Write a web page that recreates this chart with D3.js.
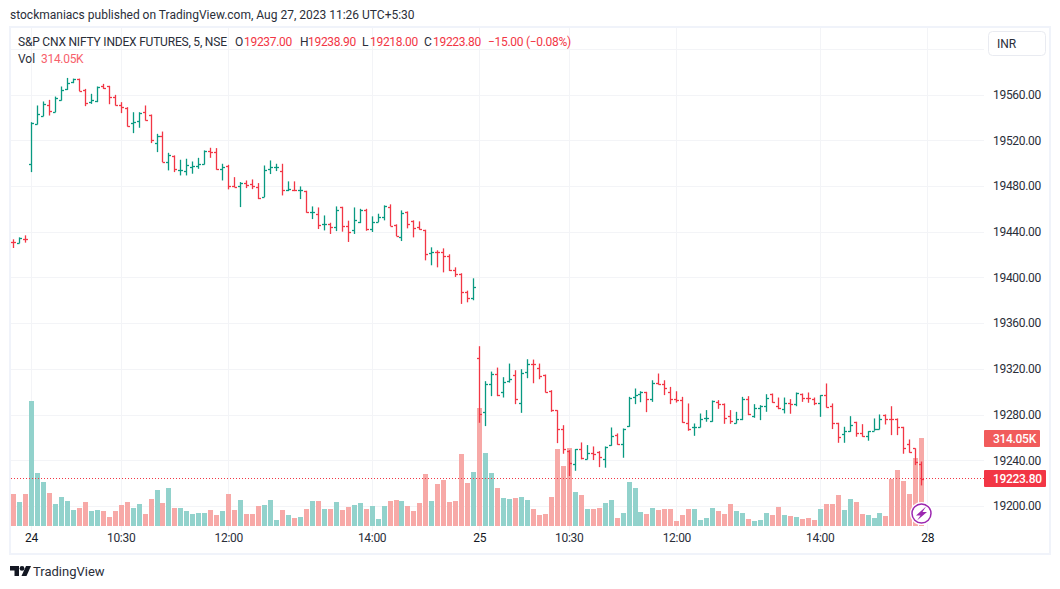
<!DOCTYPE html>
<html>
<head>
<meta charset="utf-8">
<script src="https://cdn.jsdelivr.net/npm/d3@7"></script>
<style>
	body { margin: 0; background: #fff; }
	svg { display: block; }
	text { font-family: Roboto, sans-serif; font-size: 12px; fill: #2a2e39; }
	.axis path, .axis line { display: none; }
	.axis text { font-family: Roboto, sans-serif; font-size: 12px; fill: #2a2e39; letter-spacing: -0.3px; }
	.tight { letter-spacing: -0.3px; }
</style>
</head>
<body>
<div id="chart"></div>
<script>
// 5 minute bars, Aug 23 tail + Aug 24 + Aug 25
var opens = [19431,19430.4,19433.4,
19499.4,19534.3,19541.6,19551.2,19545.1,19555.3,19564.6,19570.8,19573.7,19564,19553.3,19554.7,19567,19567,19557.4,19551,19548.3,19534.9,19536.4,19544.5,19541.9,19517.5,19523.3,19501.2,19506.1,19493.6,19493,19497,19497.3,19499.4,19510.5,19509.9,19495,19497.3,
19479.6,19480.2,19482.8,19481.9,19479.3,19470.5,19494.4,19496.8,19493.3,19476.7,19476.7,19476.1,19475.2,19456.9,19455.1,19446.4,19447,19444.3,19461.2,19444.9,19441.7,19448.7,19458.9,19442,19448.7,19452.8,19461.8,19445.8,19435.6,19457.4,19449.6,19444,19441.1,19421,19422.5,19422.2,19419,19406.5,19403,19387,19382.3,
19329.9,19282.4,19306.3,19315.9,19299.3,19309.5,19314.4,19289.7,19316.8,19324.6,19321.1,19314.4,19300.4,19283.6,19267.5,19248,19236.7,19249.5,19240.8,19246.6,19246.9,19241,19253,19262,19254.1,19269.6,19295.5,19297.8,19299.3,19293.7,19308,19306.6,19299.3,19293.5,19292.3,19272.2,19268.7,19269.3,
19276.6,19274.5,19291.1,19289.1,19278.6,19272.8,19275.7,19294,19278.6,19285.3,19287.6,19297.8,19287.3,19285,19290.5,19288.8,19298.4,19294.9,19294,19289.7,19297,19287.9,19272.2,19262.9,19265.2,19273.7,19263.5,19261.1,19265.8,19267.8,19279.5,19276.3,19276,19268.7,19253.9,19250.4,19237];
var highs = [19433.3,19435,19436.8,
19535.8,19550.4,19553.9,19555.3,19558.2,19567,19574.5,19573.9,19573.9,19564.9,19560.6,19567,19569.3,19567.6,19559.7,19553.3,19548.9,19544.5,19544.5,19550.4,19542.5,19525.6,19527.6,19509,19506.7,19502.9,19503.8,19501.4,19504.6,19511.1,19513.4,19513.1,19499.4,19498.5,
19487.7,19483.4,19484.8,19485.7,19482.5,19497.9,19502.3,19499.4,19499.4,19484,19484,19479.6,19475.8,19462.1,19461.2,19454.2,19447.8,19462.1,19461.8,19449.6,19461.2,19460,19460,19453.4,19455.7,19463,19463.9,19446.4,19458.6,19457.7,19449.9,19449,19441.7,19426.3,19423.7,19425.4,19420.2,19408.8,19403.6,19388.4,19399.2,
19339.8,19309.2,19317.6,19321.1,19312.7,19324.6,19318.8,19319.7,19328.4,19328.1,19324.6,19315,19301.3,19283.8,19270.7,19248.9,19249.8,19255.6,19253.3,19252.1,19248,19252.1,19268.7,19263.5,19267.8,19295.5,19302.8,19300.4,19299.9,19310,19315.9,19310,19304.2,19300.4,19295.5,19289.7,19272.2,19280.9,
19283.9,19292.3,19292.6,19289.7,19283.9,19282.4,19295.5,19296.1,19289.1,19288.2,19297.8,19298.4,19294.9,19294.9,19293.5,19299.3,19298.4,19299.3,19294.9,19297,19307.2,19289.7,19272.8,19269.3,19278.6,19273.7,19271.6,19265.5,19276.6,19280.1,19280.1,19287.3,19276.6,19269.3,19258.2,19250.4,19238.9];
var lows = [19425.7,19429.8,19430.4,
19492.1,19533.8,19541,19541.6,19544.5,19554.7,19564,19569.9,19562.9,19549.8,19551.8,19553.3,19564.9,19551.5,19550.4,19543.7,19532,19526.2,19530.9,19537.2,19517.5,19509.6,19500.9,19493.6,19492.1,19489.2,19489.2,19490.7,19495,19498.8,19504.6,19494.2,19484.8,19477,
19479,19461.5,19478.1,19477.2,19468.5,19470.3,19490.4,19493,19471.7,19475.5,19475.5,19468.5,19456.6,19451,19442.3,19441.1,19438,19440.5,19440,19431,19438,19447.5,19440.8,19439.7,19448.4,19449.9,19444.9,19436.2,19431.8,19442.9,19435,19441.7,19414.9,19410.6,19408.8,19404.4,19405.6,19400.4,19376.8,19378.2,19380,
19272.8,19269.9,19296.1,19296.1,19294.9,19308,19289.1,19281.5,19311.8,19307.4,19310.9,19299.3,19282.4,19255,19245.7,19226.2,19230.8,19240.8,19240.8,19240.2,19234,19233.5,19252.7,19253.6,19242.2,19269.3,19289.1,19290.8,19282.1,19291.1,19306.3,19297,19289.1,19290.5,19272.8,19265.8,19261.4,19268.7,
19273.7,19273.7,19285,19271.9,19271.9,19272.2,19275.1,19279.5,19277.2,19275.1,19282.4,19290.3,19284.7,19281,19280.7,19287.3,19291.1,19290.3,19288.2,19278,19286.2,19267.3,19255.3,19255.3,19264.9,19260.6,19260.6,19257.1,19265.8,19267,19271.3,19262,19262,19245.7,19246.6,19235.8,19218];
var closes = [19430.8,19434.4,19433.2,
19534.9,19543.1,19551.8,19546,19557,19563.5,19570.2,19573.4,19563.2,19552.4,19555.6,19566.4,19565.8,19557.4,19551,19548.9,19532.6,19535.8,19543.7,19537.8,19519.8,19523.3,19501.2,19507.3,19495,19493.6,19497.9,19497.3,19499.4,19510.5,19509.6,19495,19497,19479.9,
19479,19482.8,19481,19479.6,19469.4,19494.1,19496.8,19497,19476.7,19476.9,19476.1,19476.4,19456.9,19457,19445.8,19447,19444.3,19458.6,19445.2,19439.4,19450.5,19458.6,19442.3,19448.1,19453.1,19462.4,19445.2,19436.5,19456.6,19447,19443.5,19442,19420.8,19422.2,19421.9,19418.7,19406.2,19403,19387.5,19382.3,19391.9,
19280.4,19306.6,19315.9,19297.5,19308.9,19311.5,19293.2,19316.2,19324,19324,19314.1,19299.9,19284.4,19267.8,19249.5,19237.3,19249.5,19241.6,19246.6,19245.4,19242.5,19251.8,19261.4,19254.1,19267.8,19294.9,19297.5,19299.3,19294,19307.7,19306.6,19303.6,19294,19292.3,19273.1,19267.2,19269.3,19275.7,
19277.4,19292,19289.4,19277.4,19274.5,19275.7,19294,19280.4,19285.3,19287.3,19294.9,19290.8,19285.6,19290.5,19288.8,19299,19294.9,19294.6,19290.5,19296.7,19286.5,19272.2,19260,19265.2,19270.8,19264,19261.4,19265.2,19267.8,19276,19276,19276,19269.3,19250.4,19247.5,19238.7,19223.8];
// volume in thousands
var volumes = [114,86,114,
446,189,157,118,79,104,89,57,64,86,54,57,54,32,54,75,86,64,79,43,96,129,82,136,64,64,54,43,46,46,57,39,54,114,
57,93,43,43,71,75,93,21,57,39,29,32,61,89,89,61,61,86,57,68,75,82,61,71,25,71,89,93,89,71,54,82,186,89,150,164,86,89,257,154,193,
421,261,189,136,100,96,100,104,93,61,39,43,104,275,214,278,121,111,61,61,64,82,93,29,46,157,136,50,43,64,57,61,61,18,39,61,61,21,
29,64,54,43,79,54,46,25,18,21,46,39,68,39,36,32,25,29,21,61,79,79,111,57,96,86,43,39,29,46,36,168,200,161,114,243,314.05];

var priceTicks = [19200,19240,19280,19320,19360,19400,19440,19480,19520,19560];
var gridPrices = [19200,19240,19280,19320,19360,19400,19440,19480,19520,19560,19600];
var timeTickIndex = [3,18,36,60,78,93,111,135,153];
var timeTickLabels = ["24","10:30","12:00","14:00","25","10:30","12:00","14:00","28"];
var dayLabels = ["24","25","28"];

var lastClose = 19223.80;
var lastVolume = "314.05K";

var green = "#089981", red = "#f23645";
var greenVol = "#92d2cc", redVol = "#f7a9a7";

var svg = d3.select("#chart").append("svg")
	.attr("width", 1060)
	.attr("height", 589);

var x = d3.scaleLinear().domain([0, 153]).range([13.1, 927.3]);
var y = d3.scaleLinear().domain([19200, 19560]).range([506, 94.5]);
var v = d3.scaleLinear().domain([0, 314.05]).range([526, 438]);

function px(i) { return Math.round(x(i)); }

// outer frame
svg.append("rect")
	.attr("x", 10).attr("y", 27)
	.attr("width", 1040).attr("height", 527)
	.attr("fill", "none")
	.attr("stroke", "#f0f3fa")
	.attr("stroke-width", 2);

// grid
svg.append("g").selectAll("line").data(gridPrices).join("line")
	.attr("x1", 11).attr("x2", 984)
	.attr("y1", function(d) { return Math.round(y(d)) + 0.5; })
	.attr("y2", function(d) { return Math.round(y(d)) + 0.5; })
	.attr("stroke", "#f3f4f7");
svg.append("g").selectAll("line").data(timeTickIndex).join("line")
	.attr("x1", function(d) { return px(d) + 0.5; })
	.attr("x2", function(d) { return px(d) + 0.5; })
	.attr("y1", 28).attr("y2", 531)
	.attr("stroke", "#f3f4f7");

// volume bars
svg.append("g").selectAll("rect").data(volumes).join("rect")
	.attr("x", function(d, i) { return px(i) - 2; })
	.attr("width", 5)
	.attr("y", function(d) { return Math.round(v(d)); })
	.attr("height", function(d) { return 526 - Math.round(v(d)); })
	.attr("fill", function(d, i) { return closes[i] >= opens[i] ? greenVol : redVol; });

// last price line
var lastY = Math.floor(y(lastClose));
svg.append("line")
	.attr("x1", 11).attr("x2", 984)
	.attr("y1", lastY + 0.5)
	.attr("y2", lastY + 0.5)
	.attr("stroke", red)
	.attr("stroke-dasharray", "1 2");

// ohlc bars
var bars = svg.append("g").attr("stroke-width", 1.3)
	.selectAll("g").data(opens).join("g")
	.attr("stroke", function(d, i) { return closes[i] >= opens[i] ? green : red; });
bars.append("line")
	.attr("x1", function(d, i) { return px(i) + 0.5; })
	.attr("x2", function(d, i) { return px(i) + 0.5; })
	.attr("y1", function(d, i) { return y(highs[i]); })
	.attr("y2", function(d, i) { return y(lows[i]); });
bars.append("line")
	.attr("x1", function(d, i) { return px(i) - 2; })
	.attr("x2", function(d, i) { return px(i) + 0.5; })
	.attr("y1", function(d, i) { return Math.round(y(opens[i])) + 0.5; })
	.attr("y2", function(d, i) { return Math.round(y(opens[i])) + 0.5; });
bars.append("line")
	.attr("x1", function(d, i) { return px(i) + 0.5; })
	.attr("x2", function(d, i) { return px(i) + 3; })
	.attr("y1", function(d, i) { return Math.round(y(closes[i])) + 0.5; })
	.attr("y2", function(d, i) { return Math.round(y(closes[i])) + 0.5; });

// axes
svg.append("g").attr("class", "axis")
	.attr("transform", "translate(993,0)")
	.call(d3.axisRight(y).tickValues(priceTicks).tickSize(0).tickPadding(0).tickFormat(d3.format(".2f")));

var timeAxis = svg.append("g").attr("class", "axis")
	.attr("transform", "translate(0,530)")
	.call(d3.axisBottom(x).tickValues(timeTickIndex).tickSize(0).tickPadding(3)
		.tickFormat(function(d, i) { return timeTickLabels[i]; }));
timeAxis.selectAll("text")
	.style("fill", function(d, i) { return dayLabels.indexOf(timeTickLabels[i]) >= 0 ? "#131722" : "#2a2e39"; });

// value tags on the axis
svg.append("rect")
	.attr("x", 984).attr("y", Math.round(v(314.05)) - 8)
	.attr("width", 56).attr("height", 17).attr("rx", 1)
	.attr("fill", "#f15b5b");
svg.append("text")
	.attr("x", 993).attr("y", Math.round(v(314.05)) + 4.5)
	.attr("font-weight", 500)
	.attr("class", "tight")
	.style("fill", "#fff")
	.text(lastVolume);
svg.append("rect")
	.attr("x", 984).attr("y", lastY - 8)
	.attr("width", 62).attr("height", 17).attr("rx", 1)
	.attr("fill", red);
svg.append("text")
	.attr("x", 993).attr("y", lastY + 4.5)
	.attr("font-weight", 500)
	.attr("class", "tight")
	.style("fill", "#fff")
	.text(d3.format(".2f")(lastClose));

// currency box
svg.append("rect")
	.attr("x", 988.5).attr("y", 31.5)
	.attr("width", 57).attr("height", 24).attr("rx", 4)
	.attr("fill", "#fff").attr("stroke", "#e9ebf1");
svg.append("text").attr("x", 997).attr("y", 48).text("INR");

// headers
svg.append("text").attr("x", 10).attr("y", 19).text("stockmaniacs published on TradingView.com, Aug 27, 2023 11:26 UTC+5:30");
svg.append("text").attr("x", 18).attr("y", 46).style("letter-spacing", "-0.2px").text("S&P CNX NIFTY INDEX FUTURES, 5, NSE");

var legendItems = [
	{x: 235, t: "O", c: "#2a2e39"}, {x: 244, t: "19237.00", c: red},
	{x: 300, t: "H", c: "#2a2e39"}, {x: 308, t: "19238.90", c: red},
	{x: 362, t: "L", c: "#2a2e39"}, {x: 370, t: "19218.00", c: red},
	{x: 424, t: "C", c: "#2a2e39"}, {x: 433, t: "19223.80", c: red},
	{x: 488, t: "\u221215.00 (\u22120.08%)", c: red}
];
svg.append("g").selectAll("text").data(legendItems).join("text")
	.attr("class", "tight")
	.attr("x", function(d) { return d.x; })
	.attr("y", 46)
	.style("fill", function(d) { return d.c; })
	.text(function(d) { return d.t; });

svg.append("text").attr("x", 18).attr("y", 63).text("Vol");
svg.append("text").attr("x", 41).attr("y", 63).attr("class", "tight").style("fill", "#f7616c").text(lastVolume);

// lightning badge
var badge = svg.append("g").attr("transform", "translate(921.5,513.5)");
badge.append("circle").attr("r", 11.5).attr("fill", "#fff");
badge.append("circle").attr("r", 9.5).attr("fill", "#fff").attr("stroke", "#9c27b0").attr("stroke-width", 1.5);
badge.append("path").attr("d", "M4.5,-7 L-5.5,2 L-1,2 L-4.5,7 L5.5,-1.5 L1,-1.5 Z").attr("fill", "#9c27b0");

// footer logo
var logo = svg.append("g").attr("transform", "translate(10,566)").attr("fill", "#131722");
logo.append("path").attr("d", "M0,0 H9 V10 H4.5 V4.5 H0 Z");
logo.append("circle").attr("cx", 12).attr("cy", 2.4).attr("r", 2.4);
logo.append("path").attr("d", "M16,0 H21 L16.5,10 H11.5 Z");
svg.append("text").attr("x", 33).attr("y", 576).style("font-size", "13px").text("TradingView");
</script>
</body>
</html>
